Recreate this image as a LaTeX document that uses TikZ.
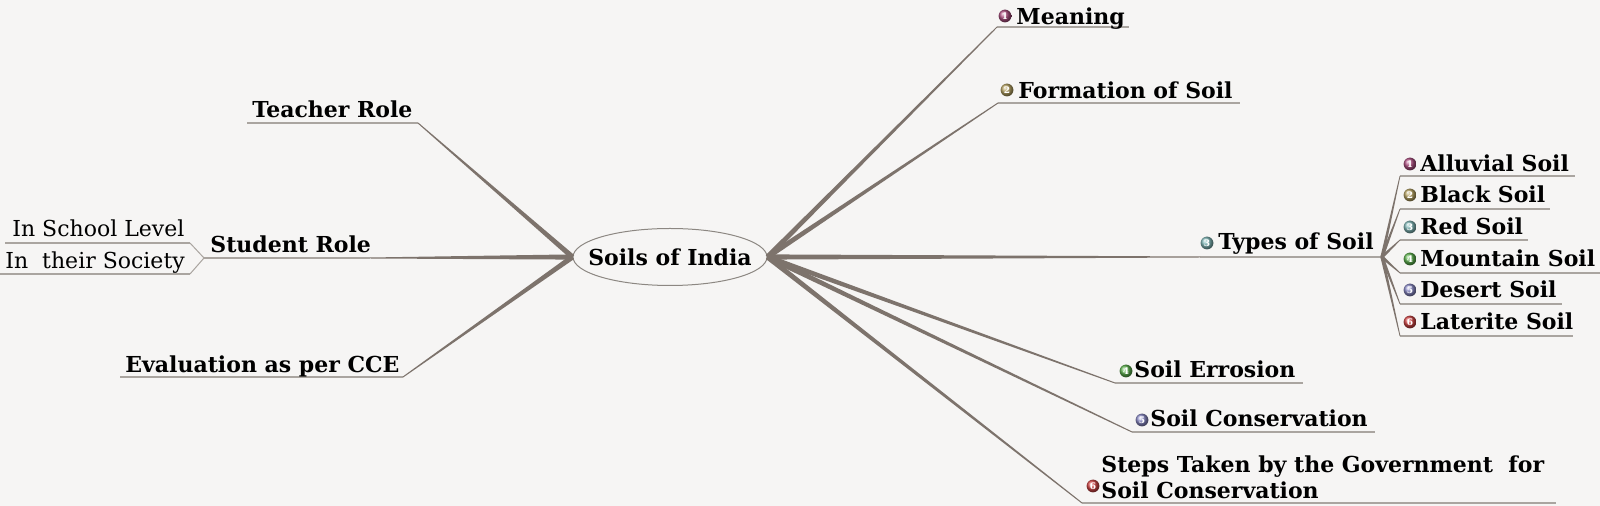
\documentclass[tikz,border=0pt]{standalone}
\usepackage{fontspec}
\setmainfont{DejaVu Serif}
\usetikzlibrary{calc,shapes.geometric}
\definecolor{bg}{RGB}{246,245,244}
\definecolor{ulc}{RGB}{170,165,160}
\definecolor{connc}{RGB}{125,115,108}
\definecolor{ellc}{RGB}{140,135,130}
\definecolor{cA}{RGB}{175,80,130}
\definecolor{cB}{RGB}{185,165,100}
\definecolor{cC}{RGB}{130,185,185}
\definecolor{cD}{RGB}{95,180,80}
\definecolor{cE}{RGB}{140,140,200}
\definecolor{cF}{RGB}{210,70,70}
\tikzset{
  lbl/.style={anchor=base west, inner sep=0pt, font=\fontsize{11}{13}\selectfont\bfseries},
  plain/.style={anchor=base west, inner sep=0pt, font=\fontsize{11}{13}\selectfont},
  ul/.style={draw=ulc, line width=0.55pt},
  conn/.style={fill=connc},
  thin/.style={draw=ulc, line width=0.5pt},
  bul/.style={circle, inner sep=0pt, minimum size=6.4pt, shading=ball, ball color=#1,
    text=white, font=\fontsize{4.5}{4.5}\selectfont\bfseries},
}
\newcommand\taper[4]{\fill[conn] ($(#1)!#3!90:(#2)$) -- ($(#2)!#4!-90:(#1)$) -- ($(#2)!#4!90:(#1)$) -- ($(#1)!#3!-90:(#2)$) -- cycle;}
\begin{document}
\begin{tikzpicture}[x=0.5pt,y=-0.5pt]
\fill[bg] (0,0) rectangle (1600,506);
\useasboundingbox (0,0) rectangle (1600,506);

% root
\node[ellipse, draw=ellc, line width=0.5pt, fill=bg, minimum width=97pt, minimum height=28.5pt, inner sep=0pt,
  font=\fontsize{11}{13}\selectfont\bfseries] (root) at (670,257) {\makebox[0pt]{Soils of India}};

% underline end coordinates
\coordinate (me-l) at (997,27);   \coordinate (me-r) at (1129,27);
\coordinate (fo-l) at (998,103);  \coordinate (fo-r) at (1240,103);
\coordinate (ty-l) at (1200,257); \coordinate (ty-r) at (1382,257);
\coordinate (al-l) at (1400,176); \coordinate (al-r) at (1575,176);
\coordinate (bl-l) at (1400,209); \coordinate (bl-r) at (1550,209);
\coordinate (re-l) at (1400,240); \coordinate (re-r) at (1528,240);
\coordinate (mo-l) at (1400,273); \coordinate (mo-r) at (1600,273);
\coordinate (de-l) at (1400,304); \coordinate (de-r) at (1562,304);
\coordinate (la-l) at (1400,336); \coordinate (la-r) at (1573,336);
\coordinate (er-l) at (1115,383); \coordinate (er-r) at (1303,383);
\coordinate (co-l) at (1132,432); \coordinate (co-r) at (1375,432);
\coordinate (st-l) at (1082,503); \coordinate (st-r) at (1556,503);
\coordinate (te-l) at (247,123);  \coordinate (te-r) at (418,123);
\coordinate (su-l) at (204,258);  \coordinate (su-r) at (370,258);
\coordinate (ev-l) at (120,377);  \coordinate (ev-r) at (403,377);
\coordinate (sc-l) at (5,243);    \coordinate (sc-r) at (190,243);
\coordinate (so-l) at (0,274);    \coordinate (so-r) at (190,274);

% underlines
\foreach \n in {me,fo,ty,al,bl,re,mo,de,la,er,co,st,te,su,ev,sc,so}
  {\draw[ul] (\n-l) -- (\n-r);}

% main connectors
\taper{root.east}{me-l}{1.3pt}{0.25pt}
\taper{root.east}{fo-l}{1.3pt}{0.25pt}
\taper{root.east}{ty-l}{1.3pt}{0.25pt}
\taper{root.east}{er-l}{1.3pt}{0.25pt}
\taper{root.east}{co-l}{1.3pt}{0.25pt}
\taper{root.east}{st-l}{1.3pt}{0.25pt}
\taper{root.west}{te-r}{1.3pt}{0.25pt}
\taper{root.west}{su-r}{1.3pt}{0.25pt}
\taper{root.west}{ev-r}{1.3pt}{0.25pt}

% fan of types
\foreach \n in {al,bl,re,mo,de,la}
  {\taper{ty-r}{\n-l}{0.8pt}{0.2pt}}

% chevron of student role
\draw[thin] (sc-r) -- (su-l) -- (so-r);

% labels right
\node[bul=cA] (b-me) at (1005,16) {1};
\node[lbl] (me) at (1016,25) {Meaning};
\node[bul=cB] (b-fo) at (1007,90) {2};
\node[lbl] (fo) at (1018,99) {Formation of Soil};
\node[bul=cC] (b-ty) at (1207,243) {3};
\node[lbl] (ty) at (1218,250) {Types of Soil};

\node[bul=cA] (b-al) at (1410,164) {1};
\node[lbl] (al) at (1420,172) {Alluvial Soil};
\node[bul=cB] (b-bl) at (1410,195) {2};
\node[lbl] (bl) at (1420,203) {Black Soil};
\node[bul=cC] (b-re) at (1410,227) {3};
\node[lbl] (re) at (1420,235) {Red Soil};
\node[bul=cD] (b-mo) at (1410,259) {4};
\node[lbl] (mo) at (1420,267) {Mountain Soil};
\node[bul=cE] (b-de) at (1410,290) {5};
\node[lbl] (de) at (1420,298) {Desert Soil};
\node[bul=cF] (b-la) at (1410,322) {6};
\node[lbl] (la) at (1420,330) {Laterite Soil};

\node[bul=cD] (b-er) at (1126,371) {4};
\node[lbl] (er) at (1134,378) {Soil Errosion};
\node[bul=cE] (b-co) at (1142,420) {5};
\node[lbl] (co) at (1150,427) {Soil Conservation};
\node[bul=cF] (b-st) at (1093,486) {6};
\node[lbl] (st) at (1101,473) {Steps Taken by the Government\ \ for};
\node[lbl] (st2) at (1101,499) {Soil Conservation};

% labels left
\node[lbl] (te) at (252,118) {Teacher Role};
\node[lbl] (su) at (210,253) {Student Role};
\node[lbl] (ev) at (125,373) {Evaluation as per CCE};
\node[plain] (sc) at (12,237) {In School Level};
\node[plain] (so) at (5,269) {In\ \ their Society};
\end{tikzpicture}
\end{document}
